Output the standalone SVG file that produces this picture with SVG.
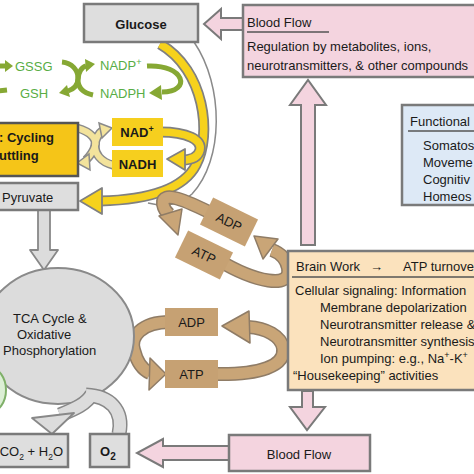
<svg xmlns="http://www.w3.org/2000/svg" width="474" height="474" viewBox="0 0 474 474">
<style>
.t{font-family:"Liberation Sans",Arial,sans-serif;font-size:13px;fill:#1a1a1a}
.b{font-weight:bold}
.gr{font-family:"Liberation Sans",Arial,sans-serif;font-size:13px;fill:#58ad45}
.gbox{fill:#dedede;stroke:#7a7a7a;stroke-width:2.5}
.pink{fill:#f4d4df;stroke:#7a7a7a;stroke-width:2.5}
.pk{fill:#f4d4df;stroke:#7a7a7a;stroke-width:2;stroke-linejoin:miter}
.yo{fill:none;stroke:#808080;stroke-width:11}
.yi{fill:none;stroke:#f6d21c;stroke-width:7.5}
.yh{fill:#f6d21c;stroke:#808080;stroke-width:1.8;stroke-linejoin:round}
.lyo{fill:none;stroke:#8a8a8a;stroke-width:9}
.lyi{fill:none;stroke:#f3e39c;stroke-width:6}
.lyh{fill:#f3e39c;stroke:#8a8a8a;stroke-width:1.5}
.gn{fill:none;stroke:#86a834;stroke-width:5}
.gnh{fill:#86a834}
.bo{fill:none;stroke:#8f7c66;stroke-width:14}
.bi{fill:none;stroke:#c9a577;stroke-width:11}
.bh{fill:#c9a577;stroke:#8f7c66;stroke-width:1.5;stroke-linejoin:round}
.brn{fill:#c6a173}
.go{fill:none;stroke:#888;stroke-width:15}
.gi{fill:none;stroke:#dcdcdc;stroke-width:12}
.gh{fill:#dcdcdc;stroke:#888;stroke-width:1.8;stroke-linejoin:round}
</style>

<g id="connectors">
  <path class="gn" d="M -2 66 L 6 66"/>
  <polygon class="gnh" points="5,60 13,66 5,72"/>
  <path class="gn" d="M -2 91 L 7 90"/>
  <path class="gn" d="M 62 62 C 72 63, 78 70, 78 78 C 78 85, 74 89, 68 91"/>
  <polygon class="gnh" points="59,93 67,85 70,97"/>
  <path class="gn" d="M 93 95 C 84 93, 78 88, 78 80 C 78 72, 82 67, 86 66"/>
  <polygon class="gnh" points="95,64 85,59 86,72"/>

  <path fill="none" stroke="#8a8a8a" stroke-width="1.5" d="M 194 42 C 224 86, 224 160, 192 194 C 178 207, 160 206, 148 203"/>
  <path class="yo" d="M 160 44 C 205 70, 212 135, 196 165 C 182 192, 140 200, 100 201"/>
  <path class="yi" d="M 160 44 C 205 70, 212 135, 196 165 C 182 192, 140 200, 100 201"/>
  <polygon class="yh" points="80,201 102,188 102,214"/>

  <path class="gn" d="M 147 66 C 185 64, 192 92, 162 92"/>
  <polygon class="gnh" points="149,93 161,85 162,100"/>

  <path class="yo" d="M 160 132 C 188 132, 202 140, 200 150 C 198 158, 190 160, 182 160"/>
  <path class="yi" d="M 160 132 C 188 132, 202 140, 200 150 C 198 158, 190 160, 182 160"/>
  <polygon class="yh" points="167,159 185,149 185,170"/>

  <path class="lyo" d="M 77 128 C 92 132, 97 140, 95 146 C 93 153, 88 158, 86 160"/>
  <path class="lyo" d="M 113 165 C 100 162, 95 153, 95 146 C 95 139, 99 133, 102 131"/>
  <path class="lyi" d="M 77 128 C 92 132, 97 140, 95 146 C 93 153, 88 158, 86 160"/>
  <path class="lyi" d="M 113 165 C 100 162, 95 153, 95 146 C 95 139, 99 133, 102 131"/>
  <polygon class="lyh" points="77,163 89,154 90,170"/>
  <polygon class="lyh" points="112,128 99,123 102,138"/>

  <polygon class="gh" points="38,210 50,210 50,250 58,250 44,270 30,250 38,250"/>

  <path class="bo" d="M 215 215 C 185 200, 162 190, 163 204 C 164 210, 167 213, 170 215"/>
  <path class="bi" d="M 215 215 C 185 200, 162 190, 163 204 C 164 210, 167 213, 170 215"/>
  <polygon class="bh" points="159,216 182,209 178,235"/>
  <path class="bo" d="M 218 260 C 255 282, 292 290, 288 268 C 286 258, 280 253, 272 250"/>
  <path class="bi" d="M 218 260 C 255 282, 292 290, 288 268 C 286 258, 280 253, 272 250"/>
  <polygon class="bh" points="278,239 263,259 254,236"/>

  <path class="bo" d="M 170 322 C 140 322, 130 338, 134 350 C 137 362, 143 370, 150 373"/>
  <path class="bi" d="M 170 322 C 140 322, 130 338, 134 350 C 137 362, 143 370, 150 373"/>
  <polygon class="bh" points="150,358 149,390 166,374"/>
  <path class="bo" d="M 214 374 C 260 375, 286 366, 283 348 C 281 336, 266 328, 248 327"/>
  <path class="bi" d="M 214 374 C 260 375, 286 366, 283 348 C 281 336, 266 328, 248 327"/>
  <polygon class="bh" points="249,311 250,343 222,326"/>

  <polygon class="pk" points="243,18 221,18 221,9 204,24 221,39 221,30 243,30"/>
  <polygon class="pk" points="301,245 301,105 290,105 308,80 326,105 315,105 315,245"/>
  <polygon class="pk" points="302,391 313,391 313,407 325,407 307,430 290,407 302,407"/>
  <polygon class="pk" points="229,446 163,446 163,439 137,453 163,467 163,460 229,460"/>
</g>

<g id="glucose">
  <rect class="gbox" x="84" y="4" width="114" height="38"/>
  <text class="t b" x="141" y="29" text-anchor="middle" font-size="14.5">Glucose</text>
</g>

<g id="blood-flow-top">
  <rect class="pink" x="243" y="5" width="240" height="72"/>
  <text class="t" x="247" y="27" font-size="14.5">Blood Flow</text>
  <line x1="247" y1="32" x2="329" y2="32" stroke="#555" stroke-width="1.5"/>
  <text class="t" x="247" y="51">Regulation by metabolites, ions,</text>
  <text class="t" x="247" y="70">neurotransmitters, &amp; other compounds</text>
</g>

<g id="functional">
  <rect x="402" y="105" width="80" height="100" fill="#dde9f6" stroke="#7a7a7a" stroke-width="2.5"/>
  <text class="t" x="410" y="126">Functional</text>
  <line x1="408" y1="131" x2="474" y2="131" stroke="#555" stroke-width="1.5"/>
  <text class="t" x="423" y="150">Somatos</text>
  <text class="t" x="423" y="167">Moveme</text>
  <text class="t" x="423" y="184">Cognitiv</text>
  <text class="t" x="423" y="201">Homeos</text>
</g>

<g id="glutathione">
  <text class="gr" x="15" y="71">GSSG</text>
  <text class="gr" x="20" y="98">GSH</text>
  <text class="gr" x="100" y="70">NADP<tspan font-size="9" dy="-5">+</tspan></text>
  <text class="gr" x="100" y="98">NADPH</text>
</g>

<g id="cycling">
  <rect x="-10" y="123" width="88" height="53" fill="#f5c518" stroke="#555" stroke-width="2.5"/>
  <text class="t b" x="-1" y="142" font-size="14">: Cycling</text>
  <text class="t b" x="-1" y="160" font-size="14">uttling</text>
</g>

<g id="nad">
  <rect x="112" y="118" width="51" height="28" fill="#f6cf1e"/>
  <text class="t b" x="137" y="137" text-anchor="middle">NAD<tspan font-size="9" dy="-5">+</tspan></text>
</g>
<g id="nadh">
  <rect x="112" y="150" width="51" height="27" fill="#f6cf1e"/>
  <text class="t b" x="137.5" y="169" text-anchor="middle">NADH</text>
</g>

<g id="pyruvate">
  <rect class="gbox" x="-6" y="183" width="84" height="27"/>
  <text class="t" x="2" y="202" font-size="14">Pyruvate</text>
</g>

<g id="tca">
  <ellipse cx="58" cy="336" rx="76" ry="68" fill="#dcdcdc" stroke="#8a8a8a" stroke-width="2"/>
  <ellipse cx="-10" cy="390" rx="16" ry="22" fill="#dcefd5" stroke="#7fb069" stroke-width="2"/>
  <text class="t" x="13" y="323">TCA Cycle &amp;</text>
  <text class="t" x="17" y="339">Oxidative</text>
  <text class="t" x="3" y="355" font-size="12.5">Phosphorylation</text>
</g>

<g id="gas-arrows">
  <path class="go" d="M 92 394 C 86 405, 72 410, 60 415"/>
  <path class="go" d="M 86 395 C 110 396, 124 410, 119 434"/>
  <path class="gi" d="M 92 394 C 86 405, 72 410, 60 415"/>
  <path class="gi" d="M 86 395 C 110 396, 124 410, 119 434"/>
  <polygon class="gh" points="32,418 74,413 52,434"/>
</g>

<g id="co2-h2o">
  <rect class="gbox" x="-6" y="434" width="74" height="33"/>
  <text class="t" x="63" y="456" text-anchor="end" font-size="12">CO<tspan font-size="8.5" dy="4">2</tspan><tspan dy="-4"> + H</tspan><tspan font-size="8.5" dy="4">2</tspan><tspan dy="-4">O</tspan></text>
</g>

<g id="o2">
  <rect class="gbox" x="90" y="434" width="39" height="33"/>
  <text class="t b" x="100" y="456" font-size="14">O<tspan font-size="10" dy="4">2</tspan></text>
</g>

<g id="adp-top">
  <rect class="brn" x="-25" y="-15" width="50" height="30" transform="translate(229 222) rotate(26)"/>
  <text class="t" transform="translate(229 222) rotate(26)" x="0" y="4.5" text-anchor="middle">ADP</text>
</g>
<g id="atp-top">
  <rect class="brn" x="-25" y="-15" width="50" height="30" transform="translate(204 255) rotate(26)"/>
  <text class="t" transform="translate(204 255) rotate(26)" x="0" y="4.5" text-anchor="middle">ATP</text>
</g>

<g id="adp-low">
  <rect class="brn" x="165" y="308" width="53" height="28"/>
  <text class="t" x="191.5" y="327" text-anchor="middle">ADP</text>
</g>
<g id="atp-low">
  <rect class="brn" x="165" y="360" width="53" height="28"/>
  <text class="t" x="191.5" y="379" text-anchor="middle">ATP</text>
</g>

<g id="brain-work">
  <rect x="288" y="251" width="195" height="139" fill="#fbe2bd" stroke="#7a7a7a" stroke-width="2.5"/>
  <text class="t" x="296" y="271">Brain Work</text>
  <text class="t b" x="370" y="271">→</text>
  <text class="t" x="403" y="271">ATP turnove</text>
  <line x1="292" y1="277" x2="474" y2="277" stroke="#555" stroke-width="1.5"/>
  <text class="t" x="295" y="295">Cellular signaling: Information</text>
  <text class="t" x="320" y="312">Membrane depolarization</text>
  <text class="t" x="320" y="329">Neurotransmitter release &amp;</text>
  <text class="t" x="320" y="346">Neurotransmitter synthesis</text>
  <text class="t" x="320" y="363">Ion pumping: e.g., Na<tspan font-size="9" dy="-5">+</tspan><tspan dy="5">-K</tspan><tspan font-size="9" dy="-5">+</tspan></text>
  <text class="t" x="293" y="380">“Housekeeping” activities</text>
</g>

<g id="blood-flow-bottom">
  <rect class="pink" x="229" y="435" width="141" height="36"/>
  <text class="t" x="299" y="459" text-anchor="middle" font-size="14.5">Blood Flow</text>
</g>
</svg>
